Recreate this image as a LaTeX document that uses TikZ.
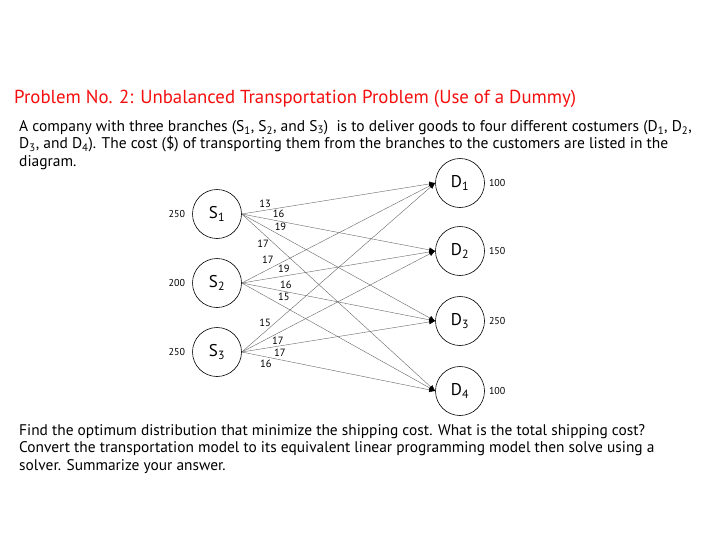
\documentclass[tikz,border=0pt]{standalone}
\usepackage{fontspec}
\setmainfont{PT Sans}
\usetikzlibrary{arrows.meta, positioning}
\definecolor{titlered}{RGB}{245,15,15}
\tikzset{
    site/.style={
        circle,
        draw=black,
        line width=0.6pt,
        minimum size=49pt,
        inner sep=0pt,
        font=\fontsize{17}{17}\selectfont
    },
    cost/.style={
        font=\fontsize{10.5}{10.5}\selectfont,
        inner sep=0pt
    },
    qty/.style={
        font=\fontsize{10}{10}\selectfont,
        inner sep=1pt
    },
    link/.style={-{Latex[length=6pt,width=5pt,color=black]}, draw=black!60, line width=0.4pt}
}

\begin{document}
\begin{tikzpicture}[x=1pt, y=-1pt]

\useasboundingbox (0,0) rectangle (719,533);
\fill[white] (0,0) rectangle (719,533);

\node[anchor=base west, inner sep=0pt, text=titlered, font=\fontsize{18.8}{18.8}\selectfont] (title) at (14,103) {Problem No. 2: Unbalanced Transportation Problem (Use of a Dummy)};

\node[anchor=north west, inner sep=0pt, align=left, font=\fontsize{15.5}{17.5}\selectfont] (intro) at (19,120) {A company with three branches (S\textsubscript{1}, S\textsubscript{2}, and S\textsubscript{3})~ is to deliver goods to four different costumers (D\textsubscript{1}, D\textsubscript{2},\\D\textsubscript{3}, and D\textsubscript{4}). The cost (\$) of transporting them from the branches to the customers are listed in the\\diagram.};

% branches
\node[site] (s1) at (217,214) {S\textsubscript{1}};
\node[site] (s2) at (217,283) {S\textsubscript{2}};
\node[site] (s3) at (217,352) {S\textsubscript{3}};

% customers
\node[site] (d1) at (460,183) {D\textsubscript{1}};
\node[site] (d2) at (460,251) {D\textsubscript{2}};
\node[site] (d3) at (460,321) {D\textsubscript{3}};
\node[site] (d4) at (460,391) {D\textsubscript{4}};

% supply and demand
\node[qty, left=6pt of s1] (sup1) {250};
\node[qty, left=6pt of s2] (sup2) {200};
\node[qty, left=6pt of s3] (sup3) {250};
\node[qty, right=3pt of d1] (dem1) {100};
\node[qty, right=3pt of d2] (dem2) {150};
\node[qty, right=3pt of d3] (dem3) {250};
\node[qty, right=3pt of d4] (dem4) {100};

% costs from S1
\draw[link] (s1.east) -- node[cost, pos=.12, yshift=6pt] {13} (d1.west);
\draw[link] (s1.east) -- node[cost, pos=.19, yshift=7pt] {16} (d2.west);
\draw[link] (s1.east) -- node[cost, pos=.20, yshift=9pt] {19} (d3.west);
\draw[link] (s1.east) -- node[cost, pos=.11, yshift=-10pt] {17} (d4.west);

% costs from S2
\draw[link] (s2.east) -- node[cost, pos=.135, yshift=9.5pt] {17} (d1.west);
\draw[link] (s2.east) -- node[cost, pos=.218, yshift=7pt] {19} (d2.west);
\draw[link] (s2.east) -- node[cost, pos=.228, yshift=7pt] {16} (d3.west);
\draw[link] (s2.east) -- node[cost, pos=.218, yshift=9.5pt] {15} (d4.west);

% costs from S3
\draw[link] (s3.east) -- node[cost, pos=.12, yshift=9pt] {15} (d1.west);
\draw[link] (s3.east) -- node[cost, pos=.187, yshift=-8pt] {17} (d2.west);
\draw[link] (s3.east) -- node[cost, pos=.197, yshift=-7pt] {17} (d3.west);
\draw[link] (s3.east) -- node[cost, pos=.124, yshift=-7pt] {16} (d4.west);

\node[anchor=north west, inner sep=0pt, align=left, font=\fontsize{15.4}{17.5}\selectfont] (task) at (19,424) {Find the optimum distribution that minimize the shipping cost. What is the total shipping cost?\\Convert the transportation model to its equivalent linear programming model then solve using a\\solver. Summarize your answer.};

\end{tikzpicture}
\end{document}
